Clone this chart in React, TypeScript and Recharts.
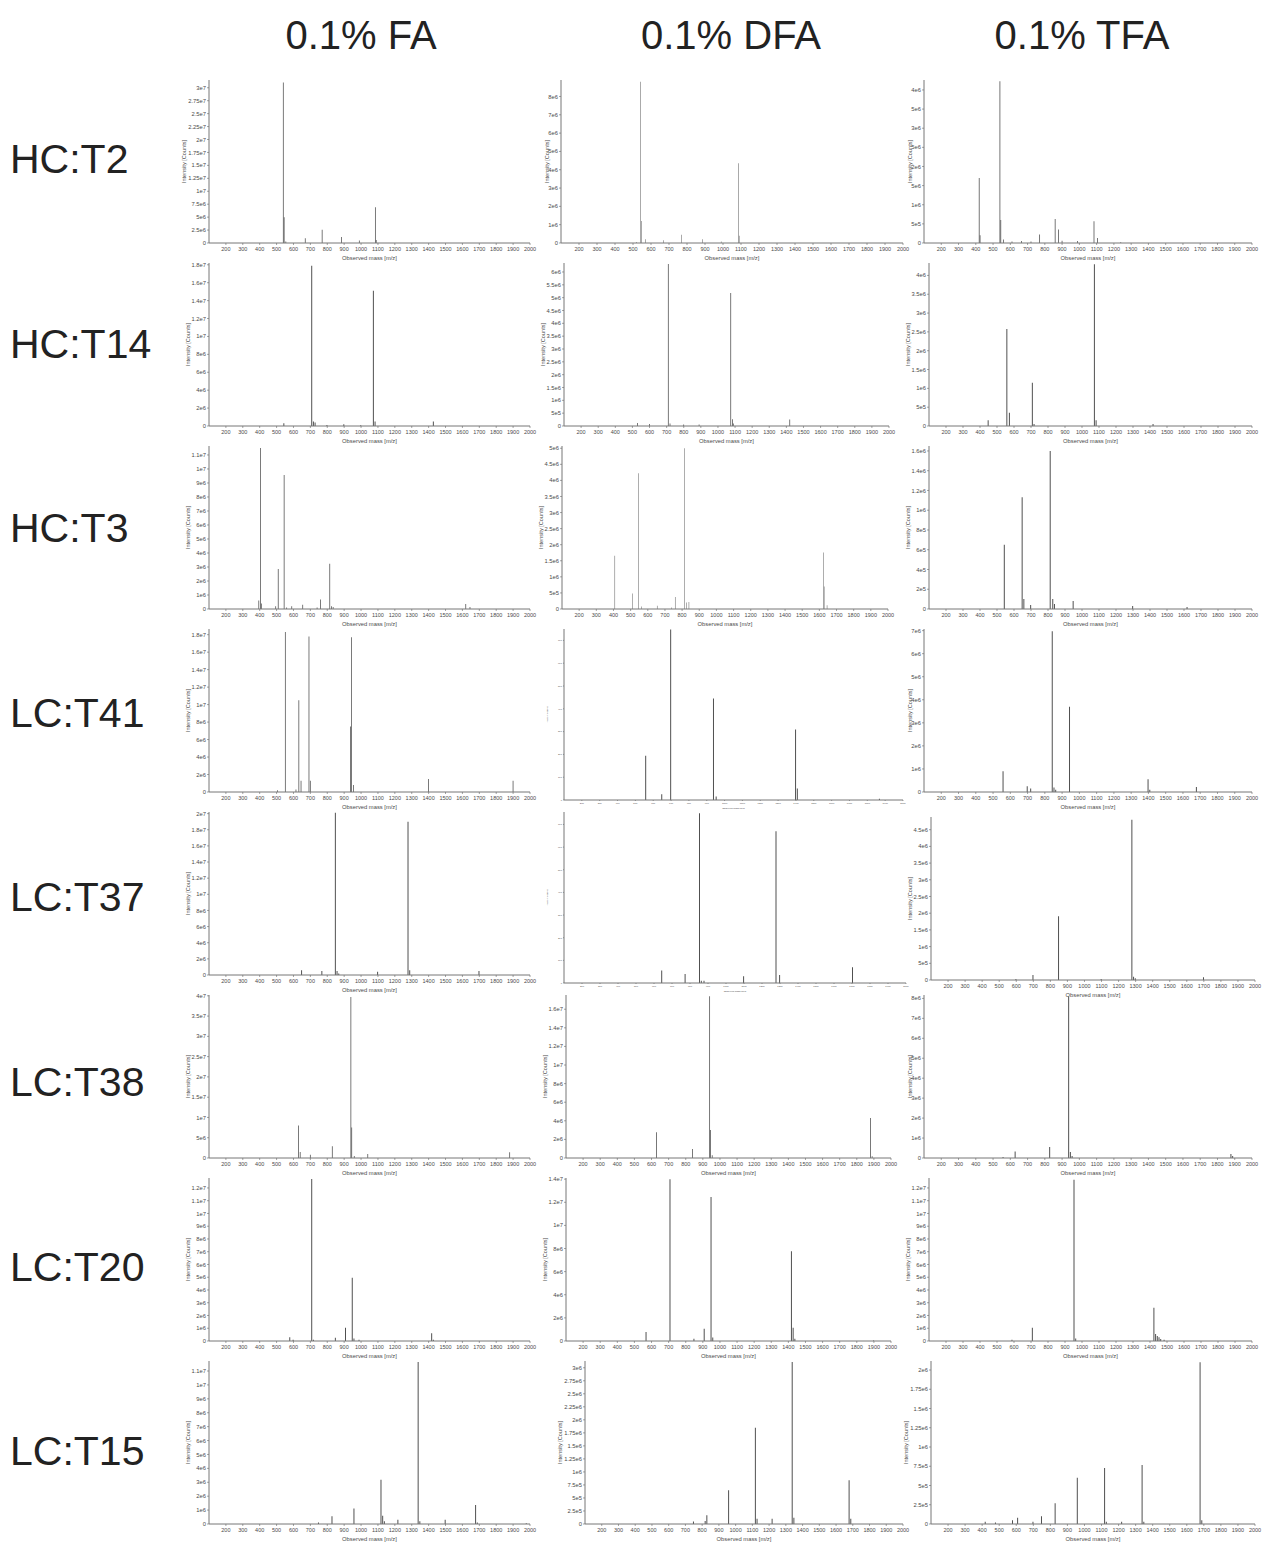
import React from 'react';
import { BarChart, Bar, XAxis, YAxis } from 'recharts';

const columnTitles = ['0.1% FA', '0.1% DFA', '0.1% TFA'];
const rowTitles = ['HC:T2', 'HC:T14', 'HC:T3', 'LC:T41', 'LC:T37', 'LC:T38', 'LC:T20', 'LC:T15'];
const massTicks = [200, 300, 400, 500, 600, 700, 800, 900, 1000, 1100, 1200, 1300, 1400, 1500, 1600, 1700, 1800, 1900, 2000];

type Peak = [number, number];

// ---- peaks [m/z, intensity] ----
const HC_T2_FA: Peak[] = [[540, 3.1e7], [545, 5e6], [555, 3e5], [670, 9e5], [770, 2.55e6], [885, 1.15e6], [990, 5e5], [1085, 6.9e6], [1090, 6e5]];
const HC_T2_DFA: Peak[] = [[520, 5e4], [543, 8.8e6], [546, 1.2e6], [570, 2e5], [670, 1.5e5], [770, 4.5e5], [885, 2e5], [990, 8e4], [1086, 4.35e6], [1090, 4e5]];
const HC_T2_TFA: Peak[] = [[420, 1.7e6], [425, 2e5], [540, 4.23e6], [545, 6e5], [560, 9e4], [610, 4e4], [665, 5e4], [720, 4e4], [770, 2.2e5], [860, 6.3e5], [880, 3.5e5], [900, 6e4], [990, 5e4], [1085, 5.7e5], [1105, 1.3e5], [1240, 2e4]];

const HC_T14_FA: Peak[] = [[545, 3e5], [710, 1.79e7], [720, 5e5], [730, 4e5], [800, 1e5], [900, 2e5], [1000, 8e4], [1075, 1.51e7], [1085, 5e5], [1430, 5e5]];
const HC_T14_DFA: Peak[] = [[530, 1.2e5], [600, 8e4], [710, 6.31e6], [720, 1e5], [800, 6e4], [890, 6e4], [1075, 5.18e6], [1085, 2.6e5], [1090, 1e5], [1420, 2.5e5]];
const HC_T14_TFA: Peak[] = [[450, 1.5e5], [560, 2.58e6], [575, 3.5e5], [710, 1.15e6], [720, 5e4], [1075, 4.3e6], [1085, 1.5e5], [1420, 5e4]];

const HC_T3_FA: Peak[] = [[395, 6e5], [405, 1.15e7], [410, 4e5], [495, 2e5], [510, 2.85e6], [545, 9.57e6], [560, 1e5], [590, 2e5], [655, 3e5], [740, 1e5], [760, 6.7e5], [815, 3.23e6], [825, 2e5], [835, 1.5e5], [1620, 3.5e5], [1645, 1.5e5]];
const HC_T3_DFA: Peak[] = [[408, 1.66e6], [510, 4.8e5], [545, 4.22e6], [565, 8e4], [655, 1e5], [740, 5e4], [760, 3.7e5], [815, 5.0e6], [825, 2e5], [840, 2.2e5], [1625, 1.76e6], [1628, 7e5], [1645, 1.2e5]];
const HC_T3_TFA: Peak[] = [[545, 6.5e5], [650, 1.13e6], [660, 1e5], [700, 4e4], [815, 1.6e6], [830, 1e5], [840, 5e4], [950, 8e4], [1300, 3e4], [1620, 2e4]];

const LC_T41_FA: Peak[] = [[505, 2e5], [552, 1.83e7], [615, 3e5], [632, 1.05e7], [645, 1.3e6], [692, 1.78e7], [700, 1.3e6], [938, 7.5e6], [943, 1.77e7], [955, 8e5], [1400, 1.5e6], [1900, 1.3e6]];
const LC_T41_DFA: Peak[] = [[560, 1.94e6], [650, 2.5e5], [700, 7.48e6], [940, 4.45e6], [955, 1.5e5], [1400, 3.09e6], [1410, 5e5], [1870, 5e4]];
const LC_T41_TFA: Peak[] = [[560, 9e5], [700, 2.5e5], [720, 1.5e5], [845, 6.97e6], [855, 2e5], [865, 1e5], [945, 3.7e6], [1400, 5.5e5], [1410, 1e5], [1680, 2.2e5]];

const LC_T37_FA: Peak[] = [[650, 6e5], [770, 5e5], [850, 2.01e7], [860, 5e5], [870, 2e5], [1100, 4e5], [1280, 1.9e7], [1290, 6e5], [1700, 5e5]];
const LC_T37_DFA: Peak[] = [[645, 5.5e5], [775, 4e5], [855, 7.5e6], [865, 1e5], [880, 1e5], [1100, 3e5], [1280, 6.7e6], [1300, 3.5e5], [1705, 7e5]];
const LC_T37_TFA: Peak[] = [[600, 3e4], [700, 1.5e5], [850, 1.91e6], [1100, 3e4], [1280, 4.8e6], [1290, 1e5], [1300, 5e4], [1700, 8e4]];

const LC_T38_FA: Peak[] = [[630, 8e6], [640, 1.5e6], [700, 8e5], [830, 2.9e6], [940, 3.97e7], [945, 7.5e6], [960, 5e5], [1040, 1e6], [1880, 1.4e6]];
const LC_T38_DFA: Peak[] = [[630, 2.76e6], [840, 9.7e5], [940, 1.74e7], [945, 3e6], [955, 3e5], [1880, 4.3e6], [1890, 2e5]];
const LC_T38_TFA: Peak[] = [[560, 5e4], [630, 3.3e5], [830, 5.5e5], [940, 8.1e6], [950, 3e5], [960, 1e5], [1880, 2e5], [1890, 1e5]];

const LC_T20_FA: Peak[] = [[580, 3e5], [600, 1e5], [710, 1.27e7], [720, 1e5], [850, 2.5e5], [910, 1.04e6], [950, 4.96e6], [960, 2e5], [990, 1e5], [1420, 6e5], [1430, 1e5]];
const LC_T20_DFA: Peak[] = [[570, 7.8e5], [710, 1.4e7], [850, 2e5], [910, 1.06e6], [950, 1.245e7], [960, 3e5], [1420, 7.76e6], [1430, 1.15e6], [1440, 2e5], [1900, 5e4]];
const LC_T20_TFA: Peak[] = [[590, 1e5], [710, 1.04e6], [955, 1.265e7], [965, 2e5], [1425, 2.6e6], [1435, 5.5e5], [1445, 4e5], [1455, 3e5], [1465, 1.5e5], [1485, 1e5]];

const LC_T15_FA: Peak[] = [[750, 1e5], [830, 5.5e5], [960, 1.12e6], [1120, 3.18e6], [1130, 6e5], [1140, 2e5], [1220, 3e5], [1340, 1.165e7], [1350, 2e5], [1500, 3e5], [1680, 1.36e6], [1690, 1e5], [1980, 5e4]];
const LC_T15_DFA: Peak[] = [[750, 5e4], [820, 6e4], [830, 1.7e5], [960, 6.5e5], [1120, 1.85e6], [1130, 1e5], [1220, 1e5], [1340, 3.11e6], [1350, 1.2e5], [1680, 8.4e5], [1690, 1e5]];
const LC_T15_TFA: Peak[] = [[420, 3e4], [480, 2e4], [580, 5e4], [610, 8e4], [700, 3e4], [750, 1e5], [830, 2.7e5], [960, 6e5], [1120, 7.26e5], [1130, 3e4], [1220, 3e4], [1340, 7.65e5], [1350, 3e4], [1680, 2.1e6], [1690, 5e4]];

// ---- y tick values / labels ----
const ticks3e7 = [0, 2.5e6, 5e6, 7.5e6, 1e7, 1.25e7, 1.5e7, 1.75e7, 2e7, 2.25e7, 2.5e7, 2.75e7, 3e7];
const labels3e7 = ['0', '2.5e6', '5e6', '7.5e6', '1e7', '1.25e7', '1.5e7', '1.75e7', '2e7', '2.25e7', '2.5e7', '2.75e7', '3e7'];
const ticks8e6 = [0, 1e6, 2e6, 3e6, 4e6, 5e6, 6e6, 7e6, 8e6];
const labels8e6 = ['0', '1e6', '2e6', '3e6', '4e6', '5e6', '6e6', '7e6', '8e6'];
const ticks4e6 = [0, 5e5, 1e6, 1.5e6, 2e6, 2.5e6, 3e6, 3.5e6, 4e6];
const labels4e6clipped = ['0', '5e5', '1e6', '5e6', '2e6', '5e6', '3e6', '5e6', '4e6'];
const labels4e6 = ['0', '5e5', '1e6', '1.5e6', '2e6', '2.5e6', '3e6', '3.5e6', '4e6'];
const ticks18e6 = [0, 2e6, 4e6, 6e6, 8e6, 1e7, 1.2e7, 1.4e7, 1.6e7, 1.8e7];
const labels18e6 = ['0', '2e6', '4e6', '6e6', '8e6', '1e7', '1.2e7', '1.4e7', '1.6e7', '1.8e7'];
const ticks6e6 = [0, 5e5, 1e6, 1.5e6, 2e6, 2.5e6, 3e6, 3.5e6, 4e6, 4.5e6, 5e6, 5.5e6, 6e6];
const labels6e6 = ['0', '5e5', '1e6', '1.5e6', '2e6', '2.5e6', '3e6', '3.5e6', '4e6', '4.5e6', '5e6', '5.5e6', '6e6'];
const ticks11e6 = [0, 1e6, 2e6, 3e6, 4e6, 5e6, 6e6, 7e6, 8e6, 9e6, 1e7, 1.1e7];
const labels11e6 = ['0', '1e6', '2e6', '3e6', '4e6', '5e6', '6e6', '7e6', '8e6', '9e6', '1e7', '1.1e7'];
const ticks5e6 = [0, 5e5, 1e6, 1.5e6, 2e6, 2.5e6, 3e6, 3.5e6, 4e6, 4.5e6, 5e6];
const labels5e6 = ['0', '5e5', '1e6', '1.5e6', '2e6', '2.5e6', '3e6', '3.5e6', '4e6', '4.5e6', '5e6'];
const ticks16e5 = [0, 2e5, 4e5, 6e5, 8e5, 1e6, 1.2e6, 1.4e6, 1.6e6];
const labels16e5 = ['0', '2e5', '4e5', '6e5', '8e5', '1e6', '1.2e6', '1.4e6', '1.6e6'];
const ticks7e6 = [0, 1e6, 2e6, 3e6, 4e6, 5e6, 6e6, 7e6];
const labels7e6 = ['0', '1e6', '2e6', '3e6', '4e6', '5e6', '6e6', '7e6'];
const ticks2e7 = [0, 2e6, 4e6, 6e6, 8e6, 1e7, 1.2e7, 1.4e7, 1.6e7, 1.8e7, 2e7];
const labels2e7 = ['0', '2e6', '4e6', '6e6', '8e6', '1e7', '1.2e7', '1.4e7', '1.6e7', '1.8e7', '2e7'];
const ticks45e5 = [0, 5e5, 1e6, 1.5e6, 2e6, 2.5e6, 3e6, 3.5e6, 4e6, 4.5e6];
const labels45e5 = ['0', '5e5', '1e6', '1.5e6', '2e6', '2.5e6', '3e6', '3.5e6', '4e6', '4.5e6'];
const ticks4e7 = [0, 5e6, 1e7, 1.5e7, 2e7, 2.5e7, 3e7, 3.5e7, 4e7];
const labels4e7 = ['0', '5e6', '1e7', '1.5e7', '2e7', '2.5e7', '3e7', '3.5e7', '4e7'];
const ticks16e6 = [0, 2e6, 4e6, 6e6, 8e6, 1e7, 1.2e7, 1.4e7, 1.6e7];
const labels16e6 = ['0', '2e6', '4e6', '6e6', '8e6', '1e7', '1.2e7', '1.4e7', '1.6e7'];
const ticks12e6 = [0, 1e6, 2e6, 3e6, 4e6, 5e6, 6e6, 7e6, 8e6, 9e6, 1e7, 1.1e7, 1.2e7];
const labels12e6 = ['0', '1e6', '2e6', '3e6', '4e6', '5e6', '6e6', '7e6', '8e6', '9e6', '1e7', '1.1e7', '1.2e7'];
const ticks14e6 = [0, 2e6, 4e6, 6e6, 8e6, 1e7, 1.2e7, 1.4e7];
const labels14e6 = ['0', '2e6', '4e6', '6e6', '8e6', '1e7', '1.2e7', '1.4e7'];
const ticks3e6 = [0, 2.5e5, 5e5, 7.5e5, 1e6, 1.25e6, 1.5e6, 1.75e6, 2e6, 2.25e6, 2.5e6, 2.75e6, 3e6];
const labels3e6 = ['0', '2.5e5', '5e5', '7.5e5', '1e6', '1.25e6', '1.5e6', '1.75e6', '2e6', '2.25e6', '2.5e6', '2.75e6', '3e6'];
const ticks2e6 = [0, 2.5e5, 5e5, 7.5e5, 1e6, 1.25e6, 1.5e6, 1.75e6, 2e6];
const labels2e6 = ['0', '2.5e5', '5e5', '7.5e5', '1e6', '1.25e6', '1.5e6', '1.75e6', '2e6'];

type Cfg = {
  peaks: Peak[]; yTicks: number[]; yLabels: string[]; yMax: number;
  row: number; col: number; tiny?: boolean;
  x0?: number; x1?: number; yT?: number; yB?: number;
};

const panels: Cfg[] = [
  { row: 0, col: 0, peaks: HC_T2_FA, yTicks: ticks3e7, yLabels: labels3e7, yMax: 3.15e7 },
  { row: 0, col: 1, peaks: HC_T2_DFA, yTicks: ticks8e6, yLabels: labels8e6, yMax: 8.9e6 },
  { row: 0, col: 2, peaks: HC_T2_TFA, yTicks: ticks4e6, yLabels: labels4e6clipped, yMax: 4.26e6 },
  { row: 1, col: 0, peaks: HC_T14_FA, yTicks: ticks18e6, yLabels: labels18e6, yMax: 1.82e7 },
  { row: 1, col: 1, peaks: HC_T14_DFA, yTicks: ticks6e6, yLabels: labels6e6, yMax: 6.35e6, x0: 564, x1: 889 },
  { row: 1, col: 2, peaks: HC_T14_TFA, yTicks: ticks4e6, yLabels: labels4e6, yMax: 4.33e6, x0: 929 },
  { row: 2, col: 0, peaks: HC_T3_FA, yTicks: ticks11e6, yLabels: labels11e6, yMax: 1.164e7 },
  { row: 2, col: 1, peaks: HC_T3_DFA, yTicks: ticks5e6, yLabels: labels5e6, yMax: 5.07e6, x0: 562, x1: 888 },
  { row: 2, col: 2, peaks: HC_T3_TFA, yTicks: ticks16e5, yLabels: labels16e5, yMax: 1.65e6, x0: 929 },
  { row: 3, col: 0, peaks: LC_T41_FA, yTicks: ticks18e6, yLabels: labels18e6, yMax: 1.865e7 },
  { row: 3, col: 1, peaks: LC_T41_DFA, yTicks: ticks7e6, yLabels: labels7e6, yMax: 7.5e6, tiny: true, x0: 564, x1: 903, yT: 629, yB: 800 },
  { row: 3, col: 2, peaks: LC_T41_TFA, yTicks: ticks7e6, yLabels: labels7e6, yMax: 7.07e6 },
  { row: 4, col: 0, peaks: LC_T37_FA, yTicks: ticks2e7, yLabels: labels2e7, yMax: 2.02e7 },
  { row: 4, col: 1, peaks: LC_T37_DFA, yTicks: ticks7e6, yLabels: labels7e6, yMax: 7.55e6, tiny: true, x0: 564, x1: 906, yT: 812, yB: 983 },
  { row: 4, col: 2, peaks: LC_T37_TFA, yTicks: ticks45e5, yLabels: labels45e5, yMax: 4.88e6, x0: 931, x1: 1255, yT: 817, yB: 980 },
  { row: 5, col: 0, peaks: LC_T38_FA, yTicks: ticks4e7, yLabels: labels4e7, yMax: 4.02e7 },
  { row: 5, col: 1, peaks: LC_T38_DFA, yTicks: ticks16e6, yLabels: labels16e6, yMax: 1.753e7, x0: 566, x1: 891 },
  { row: 5, col: 2, peaks: LC_T38_TFA, yTicks: ticks8e6, yLabels: labels8e6, yMax: 8.17e6 },
  { row: 6, col: 0, peaks: LC_T20_FA, yTicks: ticks12e6, yLabels: labels12e6, yMax: 1.278e7 },
  { row: 6, col: 1, peaks: LC_T20_DFA, yTicks: ticks14e6, yLabels: labels14e6, yMax: 1.41e7, x0: 566, x1: 891 },
  { row: 6, col: 2, peaks: LC_T20_TFA, yTicks: ticks12e6, yLabels: labels12e6, yMax: 1.278e7, x0: 929 },
  { row: 7, col: 0, peaks: LC_T15_FA, yTicks: ticks11e6, yLabels: labels11e6, yMax: 1.172e7 },
  { row: 7, col: 1, peaks: LC_T15_DFA, yTicks: ticks3e6, yLabels: labels3e6, yMax: 3.13e6, x0: 585, x1: 903 },
  { row: 7, col: 2, peaks: LC_T15_TFA, yTicks: ticks2e6, yLabels: labels2e6, yMax: 2.117e6, x0: 931, x1: 1255 },
];

const colX0 = [209, 561, 924];
const colX1 = [530, 903, 1252];
const colCenters = [361, 731, 1082];
const FONT = '"Liberation Sans", Arial, Helvetica, sans-serif';
const INK = '#4a4a4a';

function Panel({ cfg }: { cfg: Cfg }) {
  const x0 = cfg.x0 ?? colX0[cfg.col];
  const x1 = cfg.x1 ?? colX1[cfg.col];
  const yT = cfg.yT ?? 80 + 183 * cfg.row;
  const yB = cfg.yB ?? yT + 163;
  const tiny = !!cfg.tiny;
  const YW = 40, MT = 4, MR = 10;
  const XH = tiny ? 12 : 18;
  const width = x1 - x0 + YW + MR;
  const height = yB - yT + MT + XH;
  const data = cfg.peaks.map(([mz, v]) => ({ mz, v }));
  const yfs = tiny ? 2.4 : 5.8;
  const xfs = tiny ? 2.4 : 5.5;
  const labelMap = new Map<number, string>(cfg.yTicks.map((t, i) => [t, cfg.yLabels[i]]));
  const maxChars = Math.max(...cfg.yLabels.map((l) => l.length));
  const yLabOff = tiny ? 17 : 14.5 + (maxChars - 3) * 3.5;

  const yLabel = (props: any) => {
    const vb = props.viewBox || { x: 0, y: MT, width: YW, height: yB - yT };
    const cx = vb.x + vb.width - yLabOff;
    const cy = vb.y + vb.height / 2;
    return (
      <text x={cx} y={cy} transform={`rotate(-90 ${cx} ${cy})`} textAnchor="middle" dominantBaseline="central"
        fontSize={tiny ? 2 : 5.6} fill={INK} fontFamily={FONT}>
        Intensity [Counts]
      </text>
    );
  };
  const xLabel = (props: any) => {
    const vb = props.viewBox || { x: YW, y: yB - yT + MT, width: x1 - x0, height: XH };
    const cx = vb.x + vb.width / 2;
    const cy = vb.y + (tiny ? 8.5 : 15);
    return (
      <text x={cx} y={cy} textAnchor="middle" dominantBaseline="central" fontSize={tiny ? 2.4 : 5.8} fill={INK} fontFamily={FONT}>
        Observed mass [m/z]
      </text>
    );
  };

  return (
    <div style={{ position: 'absolute', left: x0 - YW, top: yT - MT }}>
      <BarChart width={width} height={height} data={data} margin={{ top: MT, right: MR, bottom: 0, left: 0 }}>
        <XAxis type="number" dataKey="mz" domain={[100, 2000]} ticks={massTicks} interval={0} allowDataOverflow
          height={XH} tick={{ fontSize: xfs, fill: INK, fontFamily: FONT }} tickSize={tiny ? 1 : 2} tickMargin={tiny ? 1 : 2}
          tickLine={{ stroke: '#666', strokeWidth: 0.6 }} axisLine={{ stroke: '#777', strokeWidth: 1 }} label={xLabel} />
        <YAxis type="number" domain={[0, cfg.yMax]} ticks={cfg.yTicks} interval={0} allowDataOverflow width={YW}
          tickFormatter={(v: number) => labelMap.get(v) ?? ''} tick={{ fontSize: yfs, fill: INK, fontFamily: FONT }}
          tickSize={tiny ? 1 : 2} tickMargin={1} tickLine={{ stroke: '#666', strokeWidth: 0.6 }}
          axisLine={{ stroke: '#777', strokeWidth: 1 }} label={yLabel} />
        <Bar dataKey="v" fill="#505050" barSize={1} isAnimationActive={false} />
      </BarChart>
    </div>
  );
}

export default function App() {
  return (
    <div style={{ position: 'absolute', left: 0, top: 0, width: 1280, height: 1564, background: '#fff', fontFamily: FONT, color: '#222' }}>
      {columnTitles.map((t, i) => (
        <div key={t} style={{ position: 'absolute', left: colCenters[i] - 150, top: 15, width: 300, textAlign: 'center', fontSize: 40, lineHeight: '40px', whiteSpace: 'nowrap' }}>
          {t}
        </div>
      ))}
      {rowTitles.map((t, r) => (
        <div key={t} style={{ position: 'absolute', left: 10, top: 139 + 184.6 * r, fontSize: 41, lineHeight: '41px', whiteSpace: 'nowrap' }}>
          {t}
        </div>
      ))}
      {panels.map((p) => (
        <Panel key={`${p.row}-${p.col}`} cfg={p} />
      ))}
    </div>
  );
}
